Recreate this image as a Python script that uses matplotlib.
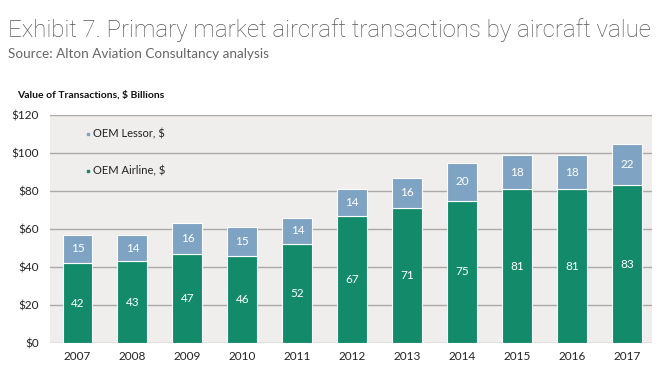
import numpy as np
import matplotlib.pyplot as plt

plt.rcParams['font.family'] = ['Lato', 'DejaVu Sans']

years = ['2007', '2008', '2009', '2010', '2011', '2012', '2013', '2014', '2015', '2016', '2017']
airline = [42, 43, 47, 46, 52, 67, 71, 75, 81, 81, 83]
lessor = [15, 14, 16, 15, 14, 14, 16, 20, 18, 18, 22]
yticks = [0, 20, 40, 60, 80, 100, 120]

green = '#138b6b'
blue = '#7fa4c3'

fig = plt.figure(figsize=(6.66, 3.80), dpi=100)
ax = fig.add_axes([50 / 666, 37 / 380, 602 / 666, 228 / 380])
ax.set_facecolor('#efeeed')

x = np.arange(len(years))
w = 0.545
ax.bar(x, airline, w, color=green, edgecolor='white', linewidth=0.8, zorder=3)
ax.bar(x, lessor, w, bottom=airline, color=blue, edgecolor='white', linewidth=0.8, zorder=3)

for i in range(len(years)):
    ax.text(x[i], airline[i] / 2, str(airline[i]), ha='center', va='center',
            color='white', fontsize=8.5, zorder=4)
    ax.text(x[i], airline[i] + lessor[i] / 2, str(lessor[i]), ha='center', va='center',
            color='white', fontsize=8.5, zorder=4)

ax.set_xlim(-0.5, 10.45)
ax.set_ylim(0, 120)
ax.set_yticks(yticks)
ax.set_yticklabels(['$' + str(v) for v in yticks])
ax.set_xticks(x)
ax.set_xticklabels(years)
ax.yaxis.grid(True, color='#aaaaaa', linewidth=1)
ax.set_axisbelow(True)
for s in ax.spines.values():
    s.set_visible(False)
ax.tick_params(length=0, labelsize=8.5, colors='#222222')
ax.tick_params(axis='y', pad=8)
ax.tick_params(axis='x', pad=6)

# legend
ax.scatter([0.2], [110], marker='s', s=4, color=blue, zorder=4)
ax.text(0.28, 110, 'OEM Lessor, $', va='center', fontsize=8, color='#222222')
ax.scatter([0.2], [90.5], marker='s', s=4, color=green, zorder=4)
ax.text(0.28, 90.5, 'OEM Airline, $', va='center', fontsize=8, color='#222222')

fig.text(8 / 666, 1 - 37 / 380, 'Exhibit 7. Primary market aircraft transactions by aircraft value',
         fontsize=17.3, color='#555555', family='Roboto', fontweight='light', va='baseline')
fig.text(8 / 666, 1 - 58 / 380, 'Source: Alton Aviation Consultancy analysis',
         fontsize=9.7, color='#666666', va='baseline')
fig.text(17 / 666, 1 - 98 / 380, 'Value of Transactions, $ Billions',
         fontsize=7.5, color='#111111', fontweight='bold', va='baseline')

fig.savefig('out.png', dpi=100)
